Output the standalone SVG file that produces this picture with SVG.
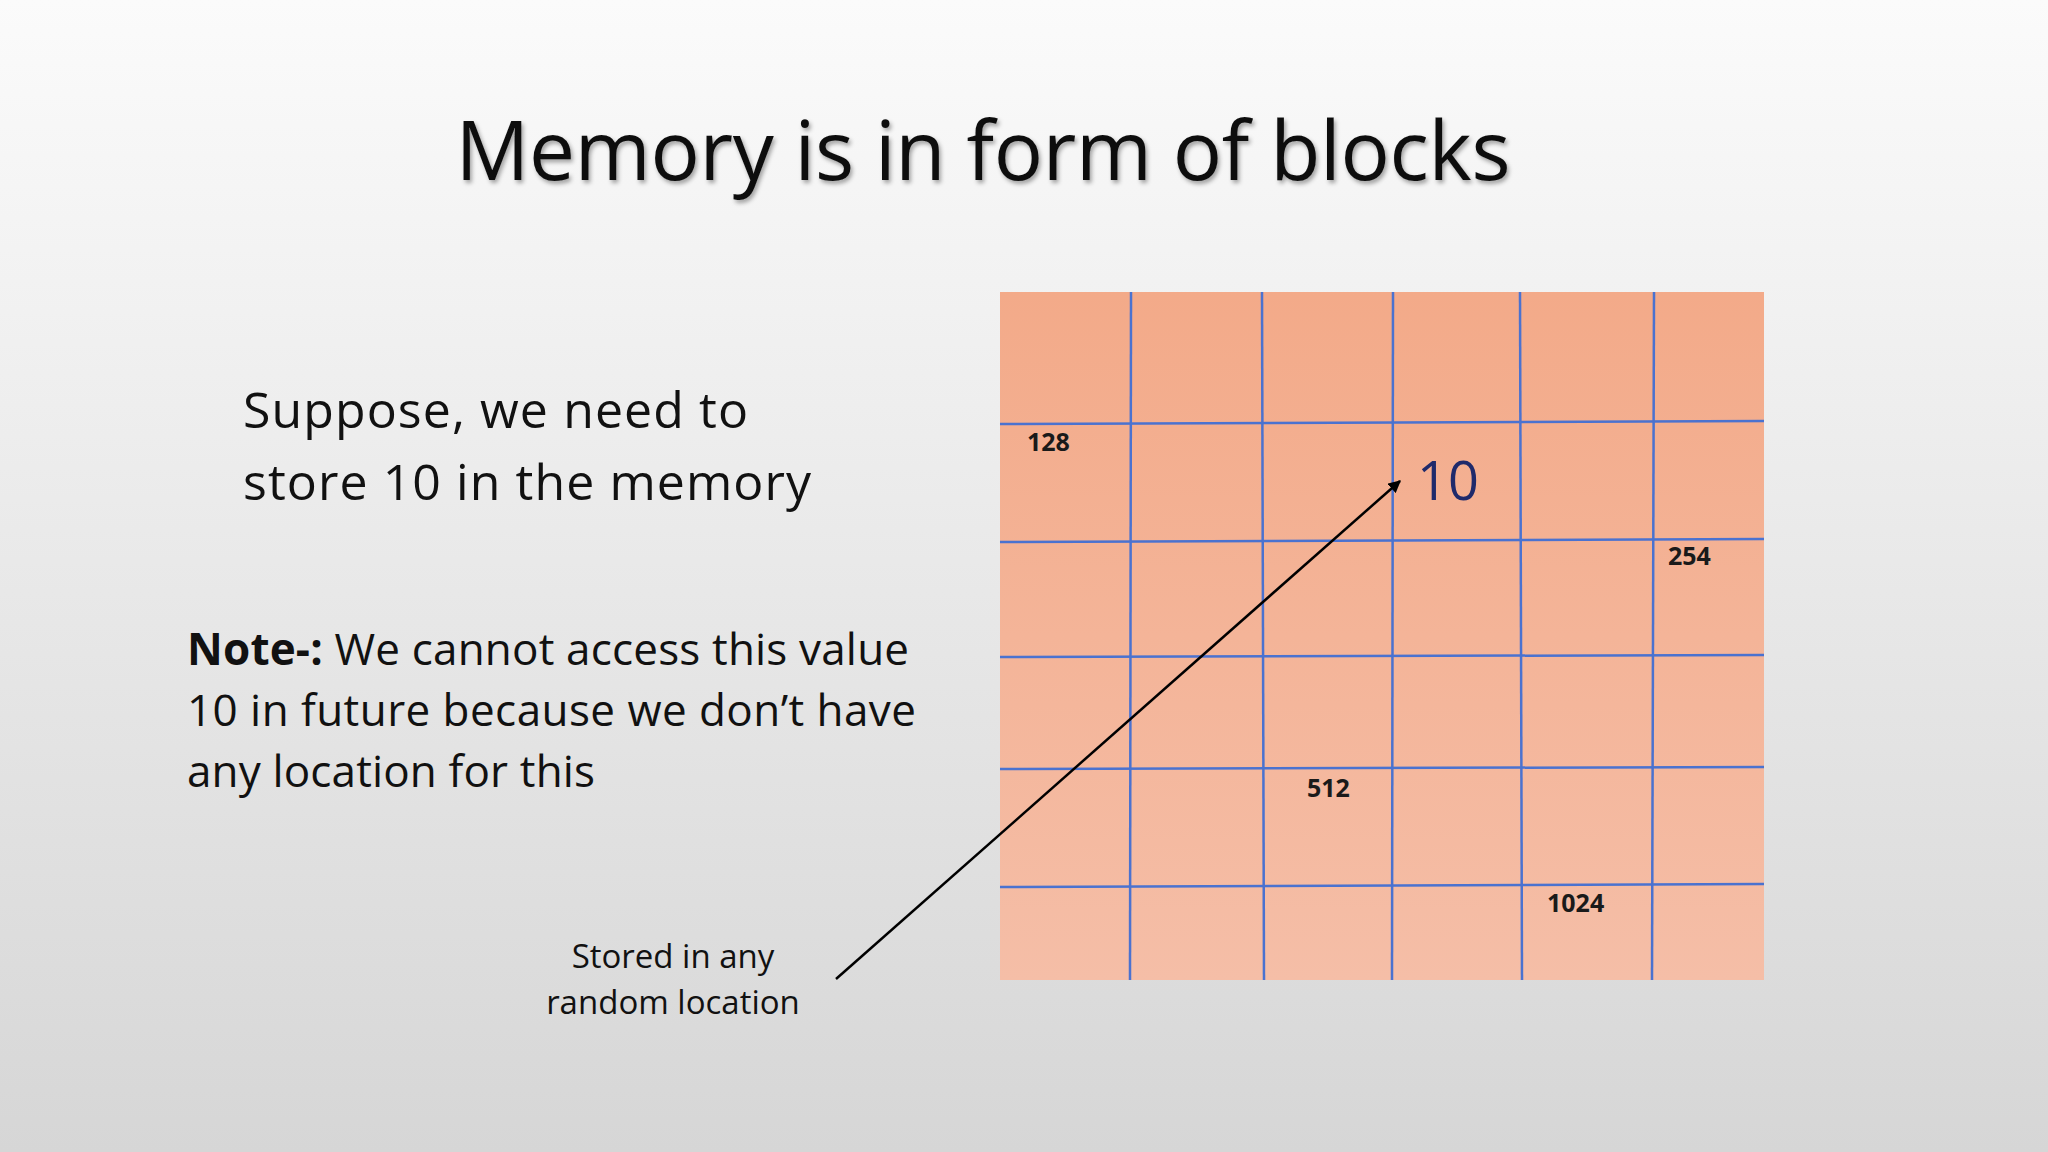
<svg xmlns="http://www.w3.org/2000/svg" width="2048" height="1152" viewBox="0 0 2048 1152">
<defs>
<linearGradient id="bg" x1="0" y1="0" x2="0" y2="1"><stop offset="0" stop-color="#fbfbfb"/><stop offset="1" stop-color="#d6d6d6"/></linearGradient>
<linearGradient id="pg" x1="0" y1="0" x2="0" y2="1"><stop offset="0" stop-color="#f3aa89"/><stop offset="1" stop-color="#f5bea7"/></linearGradient>
<filter id="sh" x="-5%" y="-20%" width="110%" height="140%"><feDropShadow dx="2" dy="3" stdDeviation="2" flood-color="#000" flood-opacity="0.35"/></filter>
<marker id="ah" viewBox="0 0 10 10" refX="9" refY="5" markerWidth="5" markerHeight="5" orient="auto"><path d="M0,0L10,5L0,10z" fill="#000"/></marker>
<style>
.t{font-family:"Open Sans","Liberation Sans",sans-serif;fill:#111}
.g{stroke:#4a72d0;stroke-width:2.5}
.n{font-family:"Open Sans","Liberation Sans",sans-serif;font-weight:bold;font-size:25px;fill:#1a1a1a}
</style>
</defs>
<rect width="2048" height="1152" fill="url(#bg)"/>
<text class="t" x="983" y="180" font-size="82" text-anchor="middle" textLength="1055" filter="url(#sh)">Memory is in form of blocks</text>
<g id="intro"><text class="t" font-size="50" x="243" y="428" textLength="505">Suppose, we need to</text><text class="t" font-size="50" x="243" y="500" textLength="568">store 10 in the memory</text></g>
<g id="note"><text class="t" font-size="44" x="187" y="665" textLength="722"><tspan font-weight="bold">Note-:</tspan> We cannot access this value</text><text class="t" font-size="44" x="187" y="726" textLength="729">10 in future because we don’t have</text><text class="t" font-size="44" x="187" y="787" textLength="408">any location for this</text></g>
<g id="grid">
<rect x="1000" y="292" width="764" height="688" fill="url(#pg)"/>
<g class="g"><line x1="1131" y1="292" x2="1130" y2="980"/><line x1="1262" y1="292" x2="1264" y2="980"/><line x1="1393" y1="292" x2="1392" y2="980"/><line x1="1520" y1="292" x2="1522" y2="980"/><line x1="1654" y1="292" x2="1652" y2="980"/>
<line x1="1000" y1="424" x2="1764" y2="421"/><line x1="1000" y1="542" x2="1764" y2="539"/><line x1="1000" y1="657" x2="1764" y2="655"/><line x1="1000" y1="769" x2="1764" y2="767"/><line x1="1000" y1="887" x2="1764" y2="884"/></g>
<text class="n" x="1027" y="451">128</text><text class="n" x="1668" y="565">254</text><text class="n" x="1307" y="797">512</text><text class="n" x="1547" y="912">1024</text>
</g>
<g id="value"><text x="1417" y="500" font-family="Open Sans, Liberation Sans, sans-serif" font-size="54" fill="#1f2a6b">10</text></g>
<g id="connectors"><line x1="836" y1="979" x2="1400" y2="481" stroke="#000" stroke-width="2.5" marker-end="url(#ah)"/></g>
<g id="caption"><text class="t" font-size="33" x="673" y="968" text-anchor="middle">Stored in  any</text><text class="t" font-size="33" x="673" y="1014" text-anchor="middle">random location</text></g>
</svg>
